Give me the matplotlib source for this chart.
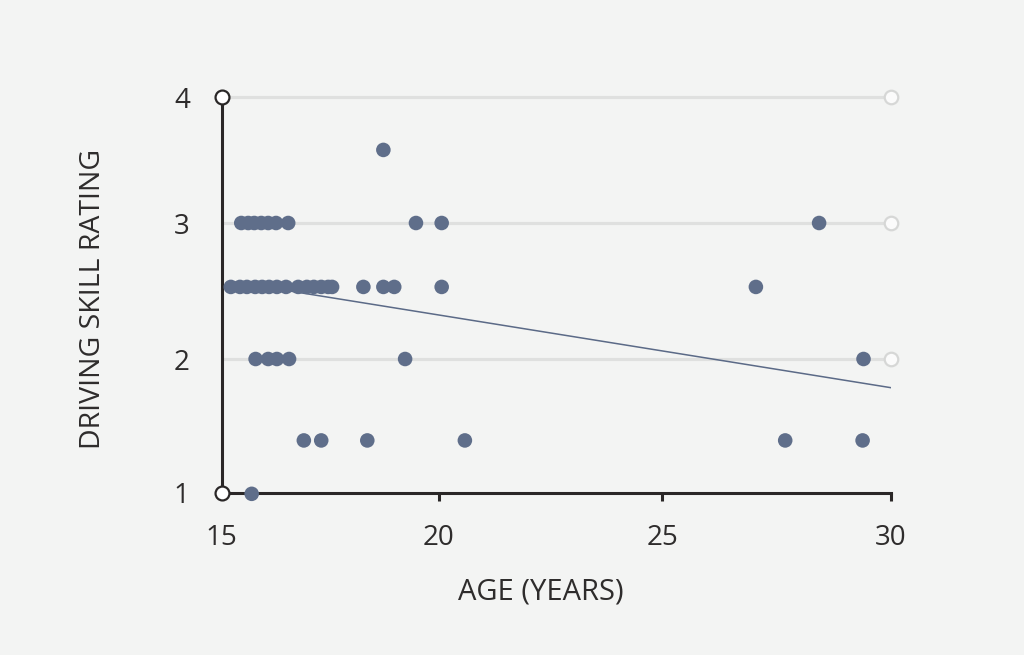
import numpy as np
import matplotlib
matplotlib.use("Agg")
import matplotlib.pyplot as plt
from matplotlib.scale import FuncScale

# Driving skill rating against age
ages = [15.45, 15.61, 15.75, 15.91, 16.07, 16.25, 16.53, 19.47, 20.06, 28.43,
        15.21, 15.42, 15.58, 15.77, 15.93, 16.09, 16.27, 16.48, 16.76, 16.96,
        17.12, 17.29, 17.45, 17.54, 18.26, 18.72, 18.97, 20.06, 27.05,
        15.78, 16.07, 16.27, 16.55, 19.22, 29.40,
        16.89, 17.29, 18.35, 20.58, 27.69, 29.38,
        15.69, 18.72]
ratings = [3.0] * 10 + [2.53] * 19 + [2.0] * 6 + [1.39] * 6 + [0.99, 3.58]

trend_age = [15.2, 30.0]
trend_rating = [2.57, 1.785]

x_ticks = [15, 20, 25, 30]
y_ticks = [1, 2, 3, 4]
grid_levels = [2, 3, 4]

BG = "#f3f4f3"
DOT = "#5f6e8a"
AXIS = "#2a2727"
GRID = "#dfe0df"
TEXT = "#2e2c2c"

plt.rcParams["font.family"] = ["Open Sans", "DejaVu Sans"]


def piecewise_scale(vals, pos):
    # the reference spaces its ticks a little unevenly, so map them piece by piece
    vals = np.asarray(vals, float)
    pos = np.asarray(pos, float)
    s0 = (pos[1] - pos[0]) / (vals[1] - vals[0])
    s1 = (pos[-1] - pos[-2]) / (vals[-1] - vals[-2])
    ev = np.concatenate([[vals[0] - 100], vals, [vals[-1] + 100]])
    ep = np.concatenate([[pos[0] - 100 * s0], pos, [pos[-1] + 100 * s1]])
    fwd = lambda v: np.interp(v, ev, ep)
    inv = lambda p: np.interp(p, ep, ev)
    return fwd, inv


fig = plt.figure(figsize=(10.24, 6.55), dpi=100, facecolor=BG)
ax = fig.add_axes([221.7 / 1024, 1 - 492.5 / 655, 669.3 / 1024, 395.5 / 655])
ax.set_facecolor(BG)

ax.set_xscale(FuncScale(ax, piecewise_scale(x_ticks, [0, 217.3, 440.3, 669.3])))
ax.set_yscale(FuncScale(ax, piecewise_scale(y_ticks, [0, 133.5, 269.5, 395.5])))
ax.set_xlim(15, 30)
ax.set_ylim(1, 4)

# grid lines with hollow end markers
for lvl in grid_levels:
    ax.plot([15, 30], [lvl, lvl], color=GRID, lw=2.3, zorder=1, clip_on=False,
            solid_capstyle="butt")
ax.scatter([30] * len(grid_levels), grid_levels, s=95, facecolor="#fbfbfb",
           edgecolor="#d6d7d6", linewidth=1.6, zorder=2, clip_on=False)

ax.plot(trend_age, trend_rating, color="#5b6a87", lw=1.1, zorder=3)
ax.scatter(ages, ratings, s=110, color=DOT, edgecolor="none", zorder=5, clip_on=False)

for side in ["top", "right"]:
    ax.spines[side].set_visible(False)
for side in ["left", "bottom"]:
    ax.spines[side].set_color(AXIS)
    ax.spines[side].set_linewidth(2.2)
    ax.spines[side].set_zorder(4)

ax.scatter([15, 15], [1, 4], s=100, facecolor="white", edgecolor=AXIS,
           linewidth=1.6, zorder=6, clip_on=False)

ax.set_xticks(x_ticks)
ax.set_xticklabels([str(t) for t in x_ticks])
ax.set_yticks(y_ticks)
ax.set_yticklabels([str(t) for t in y_ticks])
ax.xaxis.set_minor_locator(matplotlib.ticker.NullLocator())
ax.yaxis.set_minor_locator(matplotlib.ticker.NullLocator())
ax.tick_params(axis="x", length=6, width=2.2, color=AXIS, direction="out",
               labelsize=20, labelcolor=TEXT, pad=17)
ax.tick_params(axis="y", length=0, labelsize=20, labelcolor=TEXT, pad=23)
ax.xaxis.get_major_ticks()[0].tick1line.set_visible(False)

ax.set_xlabel("AGE (YEARS)", fontsize=21, color=TEXT, va="center")
ax.xaxis.set_label_coords(0.477, -0.252)
ax.set_ylabel("DRIVING SKILL RATING", fontsize=20.5, color=TEXT, va="center")
ax.yaxis.set_label_coords(-0.192, 0.49)

fig.savefig("out.png", dpi=100, facecolor=BG)
